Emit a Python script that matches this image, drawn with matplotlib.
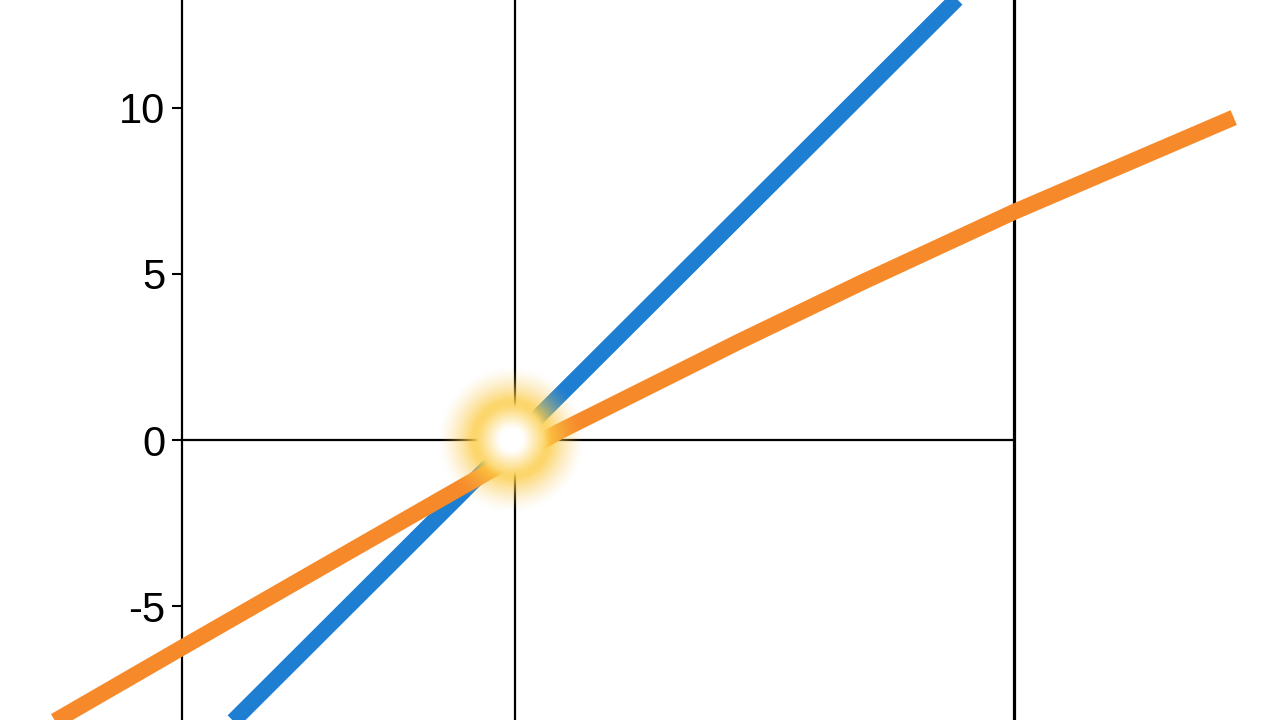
import matplotlib.pyplot as plt
import numpy as np

plt.rcParams['font.family'] = ['Liberation Sans', 'DejaVu Sans']

# values
blue_x = [-9.0, 14.0]
blue_y = [-9.0, 14.0]

orange_x = [-14.3, -10.0, -6.3, -2.3, 1.3, 6.75, 10.5, 15.0, 21.6]
orange_y = [-8.74, -6.25, -4.12, -1.82, 0.24, 2.97, 4.78, 6.87, 9.71]

ytick_vals = [-5, 0, 5, 10]
ytick_labels = ['-5', '0', '5', '10']

guide_x = [0, 15]       # vertical guide lines
baseline_x = [-10, 15]  # horizontal zero line
spine_x = -10

fig = plt.figure(figsize=(12.8, 7.2), dpi=100)
ax = fig.add_axes([0, 0, 1, 1])

for s in ['top', 'right', 'bottom']:
    ax.spines[s].set_visible(False)
ax.spines['left'].set_position(('data', spine_x))
ax.spines['left'].set_linewidth(1.6)
ax.set_xticks([])
ax.set_yticks(ytick_vals)
ax.set_yticklabels(ytick_labels)
ax.tick_params(axis='y', direction='out', length=7, width=1.5, pad=5, labelsize=30)

for gx in guide_x:
    ax.axvline(gx, color='black', lw=1.6 if gx == 0 else 2.3, zorder=1)
ax.plot(baseline_x, [0, 0], color='black', lw=1.6, zorder=1)

ax.plot(blue_x, blue_y, color='#1e7fd2', lw=11.5, solid_capstyle='butt', zorder=3)
ax.plot(orange_x, orange_y, color='#f68a2a', lw=11.5, solid_capstyle='butt', zorder=4)

# glow at the origin
R = 2.2
n = 400
g = np.linspace(-1, 1, n)
gx, gy = np.meshgrid(g, g)
r = np.sqrt(gx**2 + gy**2)
white = np.array([1.0, 1.0, 1.0])
yellow = np.array([0.99, 0.80, 0.27])
amber = np.array([0.98, 0.77, 0.32])
t1 = np.clip((r - 0.16) / 0.38, 0, 1)[..., None]
t2 = np.clip((r - 0.55) / 0.45, 0, 1)[..., None]
col = white * (1 - t1) + yellow * t1
col = col * (1 - t2) + amber * t2
a = np.clip(1 - (r - 0.45) / 0.55, 0, 1) ** 1.4
rgba = np.dstack([col, a])
ax.imshow(rgba, extent=[-0.1 - R, -0.1 + R, -R, R], zorder=5, interpolation='bilinear')
ax.set_aspect('auto')
ax.set_xlim(-15.47, 22.99)
ax.set_ylim(-8.43, 13.25)

fig.savefig('out.png', dpi=100)
